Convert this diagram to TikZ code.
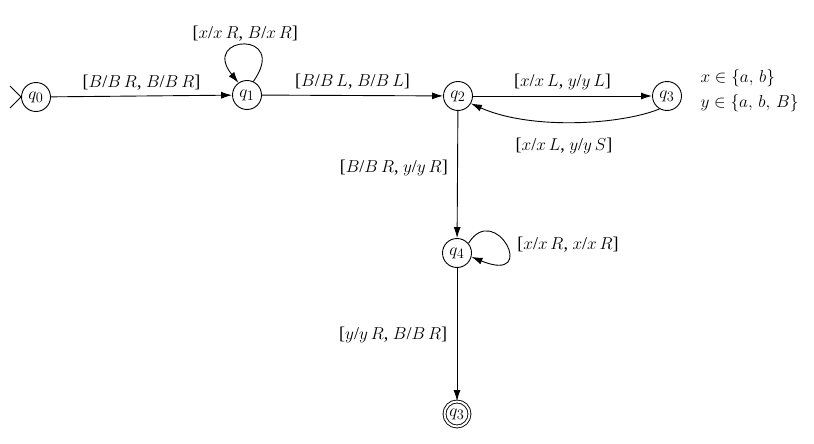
\documentclass[tikz,border=0pt]{standalone}
\usepackage{fontspec}
\setmainfont{Liberation Serif}
\usetikzlibrary{arrows.meta}
\begin{document}
\begin{tikzpicture}[x=1pt,y=-1pt,
  state/.style={circle,draw,line width=0.9pt,minimum size=29pt,inner sep=0pt,font=\fontsize{19}{21}\selectfont},
  acc/.style={state,double,double distance=2pt,minimum size=25pt},
  lab/.style={font=\fontsize{18}{20}\selectfont},
  edge/.style={-{Latex[length=11pt,width=7pt]},line width=0.9pt}]
\useasboundingbox (0,0) rectangle (814,444);
\node[state] (q0) at (36,97) {$q_0$};
\node[state] (q1) at (247,95) {$q_1$};
\node[state] (q2) at (458,96) {$q_2$};
\node[state] (q3) at (667,96) {$q_3$};
\node[state] (q4) at (457,253) {$q_4$};
\node[acc] (q5) at (457,414) {$q_3$};
\coordinate (i1) at (10,86);
\coordinate (i2) at (10,108);
\draw[line width=0.9pt] (i1) -- (q0.west) -- (i2);
\draw[edge] (q0) -- node[lab,above=2pt]{[$B$/$B\,R$, $B$/$B\,R$]} (q1);
\draw[edge] (q1.65) .. controls (290,30) and (200,35) .. node[lab,above=0pt]{[$x$/$x\,R$, $B$/$x\,R$]} (q1.125);
\draw[edge] (q1) -- node[lab,above=2pt]{[$B$/$B\,L$, $B$/$B\,L$]} (q2);
\draw[edge] (q2) -- node[lab,above=2pt]{[$x$/$x\,L$, $y$/$y\,L$]} (q3);
\draw[edge] (q3.-120) .. controls (620,125) and (530,130) .. (q2.-30);
\node[lab] (l32) at (564,146) {[$x$/$x\,L$, $y$/$y\,S$]};
\draw[edge] (q2) -- node[lab,left=6pt,pos=0.45]{[$B$/$B\,R$, $y$/$y\,R$]} (q4);
\draw[edge] (q4.40) .. controls (495,200) and (540,285) .. node[lab,right=8pt,pos=0.5]{[$x$/$x\,R$, $x$/$x\,R$]} (q4.-15);
\draw[edge] (q4) -- node[lab,left=6pt,pos=0.5]{[$y$/$y\,R$, $B$/$B\,R$]} (q5);
\node[lab,anchor=west] (n1) at (697,78) {$x\in\{a,\,b\}$};
\node[lab,anchor=west] (n2) at (697,103) {$y\in\{a,\,b,\,B\}$};
\end{tikzpicture}
\end{document}
